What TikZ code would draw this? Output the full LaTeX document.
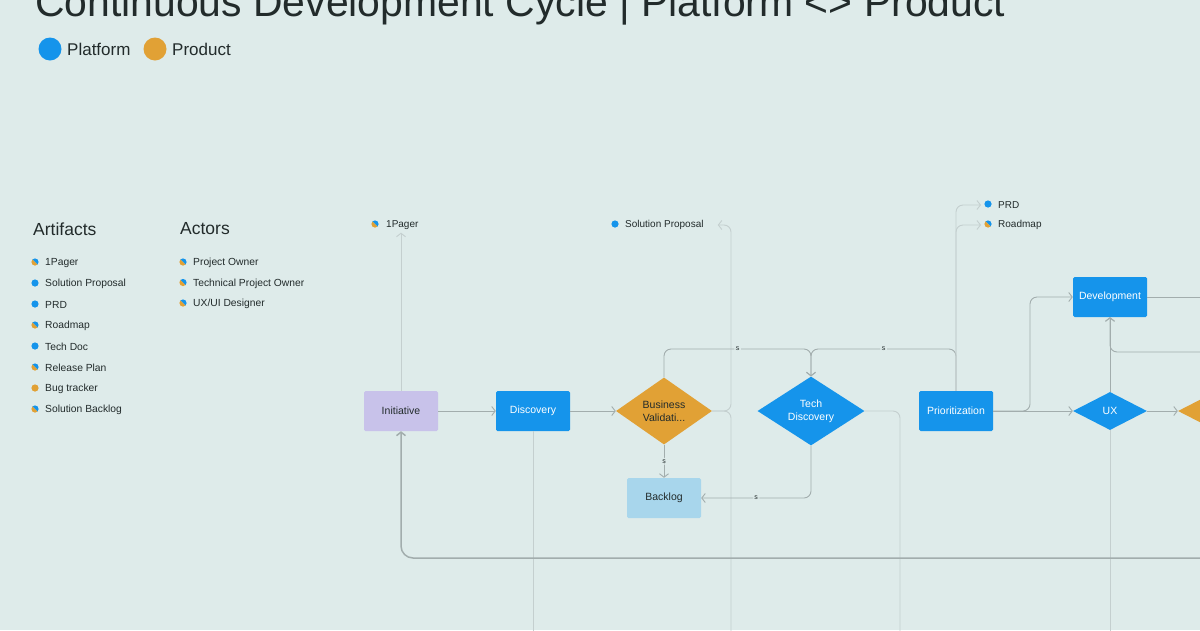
\documentclass[tikz,border=0pt]{standalone}
\usepackage{fontspec}
\setmainfont{Liberation Sans}
\usetikzlibrary{shapes.geometric,arrows.meta,positioning}

\definecolor{bgc}{HTML}{DEEBEA}
\definecolor{platf}{HTML}{1594EB}
\definecolor{prodc}{HTML}{E1A135}
\definecolor{initc}{HTML}{C8C2EA}
\definecolor{backc}{HTML}{A8D6EC}
\definecolor{ink}{HTML}{222B2B}
\definecolor{wire}{HTML}{A2ADAD}
\definecolor{wirelt}{HTML}{C4CFCF}

% bullets: blue, orange, mixed
\newcommand{\dotb}[2]{\fill[platf] (#1,#2) circle (3.6);}
\newcommand{\doto}[2]{\fill[prodc] (#1,#2) circle (3.6);}
\newcommand{\dotm}[2]{%
  \fill[platf] (#1,#2) -- ++(45:3.6) arc (45:-135:3.6) -- cycle;
  \fill[prodc] (#1,#2) -- ++(-135:3.6) arc (-135:-315:3.6) -- cycle;}

\tikzset{
  box/.style={rectangle, rounded corners=1.5pt, minimum width=74pt, minimum height=40pt,
    inner sep=0pt, font=\fontsize{10.5}{12}\selectfont},
  platbox/.style={box, fill=platf, text=white},
  dia/.style={diamond, inner sep=0pt, align=center, font=\fontsize{10.5}{13}\selectfont},
  item/.style={anchor=west, inner sep=0pt, text=ink, font=\fontsize{10.3}{12}\selectfont},
  head/.style={anchor=west, inner sep=0pt, text=ink, font=\fontsize{17.5}{20}\selectfont},
  flow/.style={draw=wire, line width=0.9pt, rounded corners=7pt,
    -{Straight Barb[length=3.5pt,width=9pt]}},
  flowlt/.style={draw=wirelt, line width=0.9pt, rounded corners=7pt},
  lbl/.style={fill=bgc, inner sep=1.5pt, text=ink, font=\fontsize{7}{8}\selectfont},
}

\begin{document}
\begin{tikzpicture}[x=1pt, y=-1pt]
  \useasboundingbox (0,0) rectangle (1200,630);
  \fill[bgc] (0,0) rectangle (1200,630);
  \clip (0,0) rectangle (1200,630);

  % Title and legend
  \node[anchor=base west, inner sep=0pt, text=ink, font=\fontsize{40.9}{44}\selectfont]
    (title) at (35,16) {Continuous Development Cycle | Platform <> Product};
  \fill[platf] (50,49) circle (11.5);
  \node[anchor=west, inner sep=0pt, text=ink, font=\fontsize{17}{20}\selectfont] (lgplat) at (67,49) {Platform};
  \fill[prodc] (155,49) circle (11.5);
  \node[anchor=west, inner sep=0pt, text=ink, font=\fontsize{17}{20}\selectfont] (lgprod) at (172,49) {Product};

  % Artifacts
  \node[head] (arthead) at (33,229) {Artifacts};
  \foreach \t/\k [count=\i] in {1Pager/m, Solution Proposal/b, PRD/b, Roadmap/m,
      Tech Doc/b, Release Plan/m, Bug tracker/o, Solution Backlog/m} {
    \pgfmathsetmacro{\yy}{262+(\i-1)*21}
    \csname dot\k\endcsname{35}{\yy}
    \node[item] (art\i) at (45,\yy+1) {\t};
  }

  % Actors
  \node[head] (acthead) at (180,229) {Actors};
  \foreach \t [count=\i] in {Project Owner, Technical Project Owner, UX/UI Designer} {
    \pgfmathsetmacro{\yy}{262+(\i-1)*20.5}
    \dotm{183}{\yy}
    \node[item] (act\i) at (193,\yy+1) {\t};
  }

  % Flow nodes
  \node[box, fill=initc, text=ink] (init) at (401,411) {Initiative};
  \node[platbox] (disc) at (533,411) {Discovery};
  \node[dia, fill=prodc, text=ink, minimum width=96pt, minimum height=67pt] (bval) at (664,411) {Business\\Validati...};
  \node[dia, fill=platf, text=white, minimum width=107pt, minimum height=66pt] (tdisc) at (811,411) {Tech\\Discovery};
  \node[box, fill=backc, text=ink] (backlog) at (664,498) {Backlog};
  \node[platbox] (prio) at (956,411) {Prioritization};
  \node[platbox] (dev) at (1110,297) {Development};
  \node[dia, fill=platf, text=white, minimum width=74pt, minimum height=38pt] (ux) at (1110,411) {UX};
  \node[dia, fill=prodc, minimum width=74pt, minimum height=38pt] (nextp) at (1215,411) {};

  % Artifacts in the flow
  \dotm{375}{224}
  \node[item, font=\fontsize{10}{12}\selectfont] (pager) at (386,225) {1Pager};
  \dotb{615}{224}
  \node[item, font=\fontsize{10}{12}\selectfont] (solprop) at (625,225) {Solution Proposal};
  \dotb{988}{204}
  \node[item, font=\fontsize{10}{12}\selectfont] (prd) at (998,205) {PRD};
  \dotm{988}{224}
  \node[item, font=\fontsize{10}{12}\selectfont] (roadmap) at (998,225) {Roadmap};

  % free ends outside the picture
  \coordinate (outdisc) at (533,650);
  \coordinate (outbval) at (731,650);
  \coordinate (outtd) at (900,650);
  \coordinate (outux) at (1110,650);
  \coordinate (inloop) at (1215,558);
  \coordinate (indev) at (1215,352);
  \coordinate (outdev) at (1215,297);

  % Connectors
  \draw[flowlt] (disc.south) -- (outdisc);
  \draw[flowlt] (bval.east) -- (731,411) -- (outbval);
  \draw[flowlt] (tdisc.east) -| (outtd);
  \draw[flowlt] (ux.south) -- (outux);
  \draw[flow, draw=wirelt, shorten >=3pt] (init.north) -- (init.north |- pager.south);
  \draw[flow, draw=wirelt] (bval.east) -- (731,411) |- ([xshift=14pt]solprop.east);
  \draw[flow] (init.east) -- (disc.west);
  \draw[flow] (disc.east) -- (bval.west);
  \draw[flow] (bval.north) -- (664,349) -| (tdisc.north) node[lbl, pos=.25] {s};
  \draw[flow] (prio.north) -- (956,349) -| (tdisc.north) node[lbl, pos=.25] {s};
  \draw[flow] (bval.south) -- (backlog.north) node[lbl, midway] {s};
  \draw[flow] (tdisc.south) |- (backlog.east) node[lbl, pos=.75] {s};
  \draw[flow, draw=wirelt] (prio.north) |- ([xshift=-17pt]prd.west);
  \draw[flow, draw=wirelt] (prio.north) |- ([xshift=-17pt]roadmap.west);
  \draw[flow] (prio.east) -- (ux.west);
  \draw[flow] (prio.east) -- (1030,411) |- (dev.west);
  \draw[flow] (ux.north) -- (dev.south);
  \draw[flow] (indev) -| (dev.south);
  \draw[flow, -] (dev.east) -- (outdev);
  \draw[flow] (ux.east) -- (nextp.west);
  \draw[flow, line width=1.5pt, rounded corners=12pt] (inloop) -| (init.south);
\end{tikzpicture}
\end{document}
